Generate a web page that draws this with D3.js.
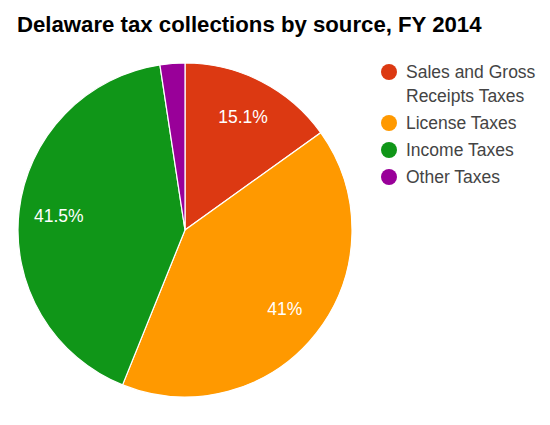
<!DOCTYPE html>
<html>
<head>
<meta charset="utf-8">
<script src="https://cdn.jsdelivr.net/npm/d3@7"></script>
<style>
  body { margin: 0; background: #fff; }
  text { font-family: "Liberation Sans", Arial, sans-serif; }
</style>
</head>
<body>
<svg width="550" height="425"></svg>
<script>
// Data
const categories = ["Sales and Gross Receipts Taxes", "License Taxes", "Income Taxes", "Other Taxes"];
const legendLines = [["Sales and Gross", "Receipts Taxes"], ["License Taxes"], ["Income Taxes"], ["Other Taxes"]];
const shares = [15.1, 41, 41.5, 2.4];
const shareLabels = ["15.1%", "41%", "41.5%", ""];
const colors = ["#dc3912", "#ff9900", "#109618", "#990099"];

const svg = d3.select("svg");

const cx = 185, cy = 230, radius = 167;

svg.append("text")
    .attr("x", 17)
    .attr("y", 32)
    .attr("font-size", 22.2)
    .attr("font-weight", "bold")
    .attr("fill", "#000")
    .text("Delaware tax collections by source, FY 2014");

const data = categories.map((c, i) => ({ name: c, value: shares[i], label: shareLabels[i], color: colors[i] }));

const pie = d3.pie().value(d => d.value).sort(null);
const arc = d3.arc().innerRadius(0).outerRadius(radius);
const labelArc = d3.arc().innerRadius(127).outerRadius(127);

const g = svg.append("g").attr("transform", `translate(${cx}, ${cy})`);

const slices = g.selectAll("g.slice").data(pie(data))
    .enter().append("g").attr("class", "slice");

slices.append("path")
    .attr("d", arc)
    .attr("fill", d => d.data.color)
    .attr("stroke", "#fff")
    .attr("stroke-width", 1.2);

slices.append("text")
    .attr("transform", d => `translate(${labelArc.centroid(d)})`)
    .attr("text-anchor", "middle")
    .attr("dy", "0.36em")
    .attr("font-size", 17.5)
    .attr("fill", "#fff")
    .text(d => d.data.label);

// legend
const legend = svg.append("g").attr("transform", "translate(389, 0)");
const rowY = [72, 123, 150, 177];

const items = legend.selectAll("g.item").data(data)
    .enter().append("g")
        .attr("class", "item")
        .attr("transform", (d, i) => `translate(0, ${rowY[i]})`);

items.append("circle")
    .attr("r", 8)
    .attr("fill", d => d.color);

items.append("text")
    .attr("font-size", 17.5)
    .attr("fill", "#444")
    .selectAll("tspan").data((d, i) => legendLines[i])
    .enter().append("tspan")
        .attr("x", 17)
        .attr("y", (d, j) => j * 23.5)
        .attr("dy", "0.36em")
        .text(d => d);
</script>
</body>
</html>
